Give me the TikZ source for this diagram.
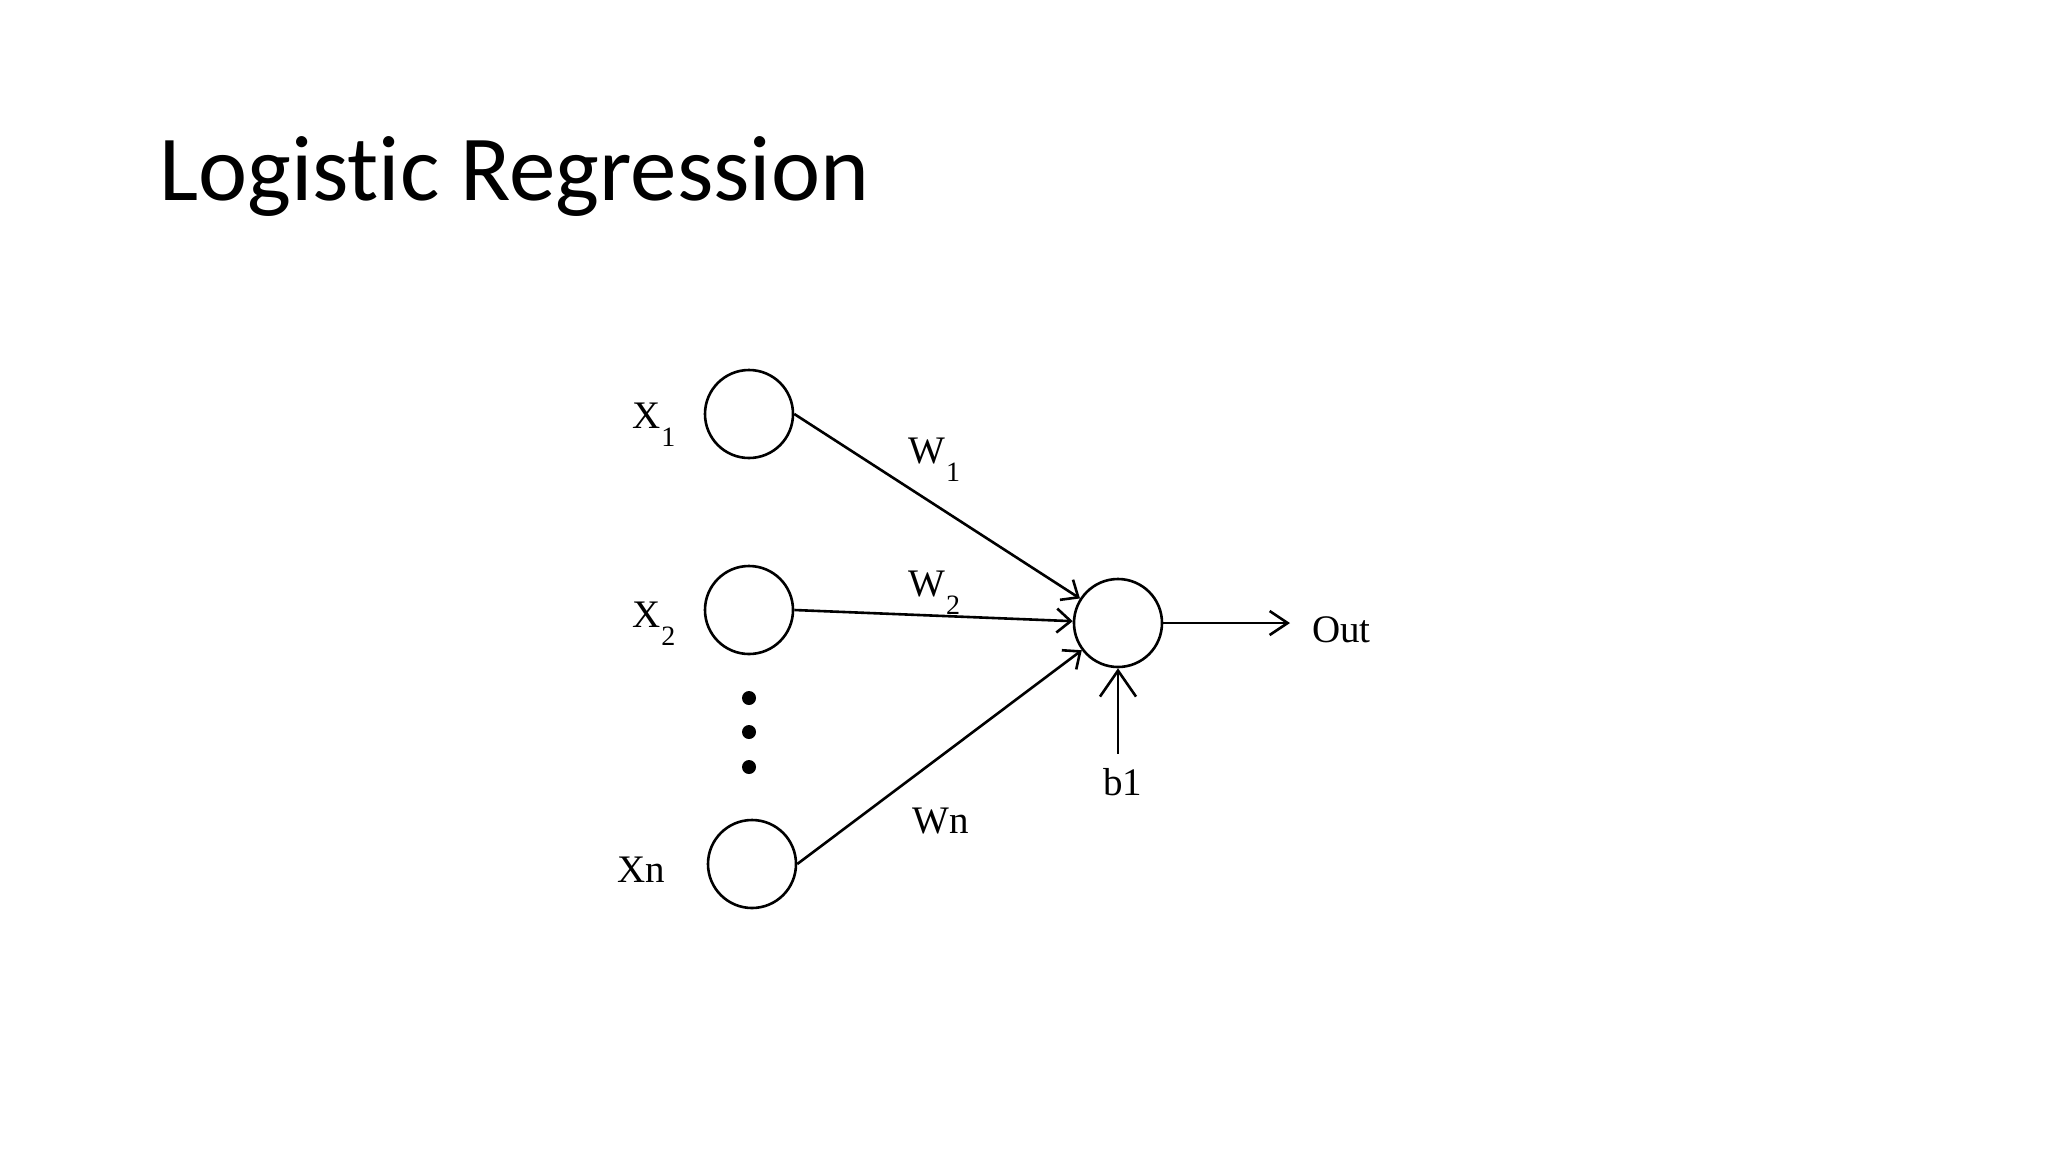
\documentclass[tikz,border=0pt]{standalone}
\usepackage{fontspec}
\setmainfont{Liberation Serif}
\newfontfamily\titlefont[Ligatures=NoCommon]{Carlito}
\usetikzlibrary{arrows.meta}
\newcommand{\lblsub}[2]{#1\hspace{1pt}\raisebox{-18pt}{\fontsize{28}{28}\selectfont #2}}
\begin{document}
\begin{tikzpicture}[x=1pt,y=-1pt,
  neuron/.style={circle,draw,line width=2.6pt,minimum size=88pt,inner sep=0pt},
  lbl/.style={inner sep=0pt,anchor=base west,font=\fontsize{39}{39}\selectfont},
  conn/.style={line width=2.6pt,-{Straight Barb[length=14pt,width=24pt,line width=2.6pt]}},
  dotn/.style={circle,fill=black,minimum size=14pt,inner sep=0pt}]
\useasboundingbox[fill=white] (0,0) rectangle (2048,1152);
\node[inner sep=0pt,anchor=base west,font=\titlefont\fontsize{93}{93}\selectfont] (title) at (159,200) {Logistic Regression};
% neurons
\node[neuron] (x1) at (749,414) {};
\node[neuron] (x2) at (749,610) {};
\node[neuron] (xn) at (752,864) {};
\node[neuron] (o) at (1118,623) {};
% dots
\node[dotn] (d1) at (749,698) {};
\node[dotn] (d2) at (749,732) {};
\node[dotn] (d3) at (749,767) {};
% labels
\node[lbl] (lx1) at (632,428) {\lblsub{X}{1}};
\node[lbl] (lx2) at (632,627) {\lblsub{X}{2}};
\node[lbl] (lxn) at (617,882) {Xn};
\node[lbl] (lw1) at (908,463) {\lblsub{W}{1}};
\node[lbl] (lw2) at (908,596) {\lblsub{W}{2}};
\node[lbl] (lwn) at (912,833) {Wn};
\node[lbl] (lout) at (1312,642) {Out};
\node[lbl] (lb1) at (1103,795) {b1};
\coordinate (outend) at (1290,623);
% connectors
\draw[conn] (x1.east) -- (o);
\draw[conn] (x2.east) -- (o);
\draw[conn] (xn.east) -- (o);
\draw[line width=2.6pt,-{Straight Barb[length=18pt,width=24pt,line width=2.6pt]}] (o) -- (outend);
\draw[line width=2.6pt,-{Straight Barb[length=26pt,width=36pt,line width=2.6pt]},shorten <=14pt] (o.south |- lb1.north) -- (o.south);
\end{tikzpicture}
\end{document}
